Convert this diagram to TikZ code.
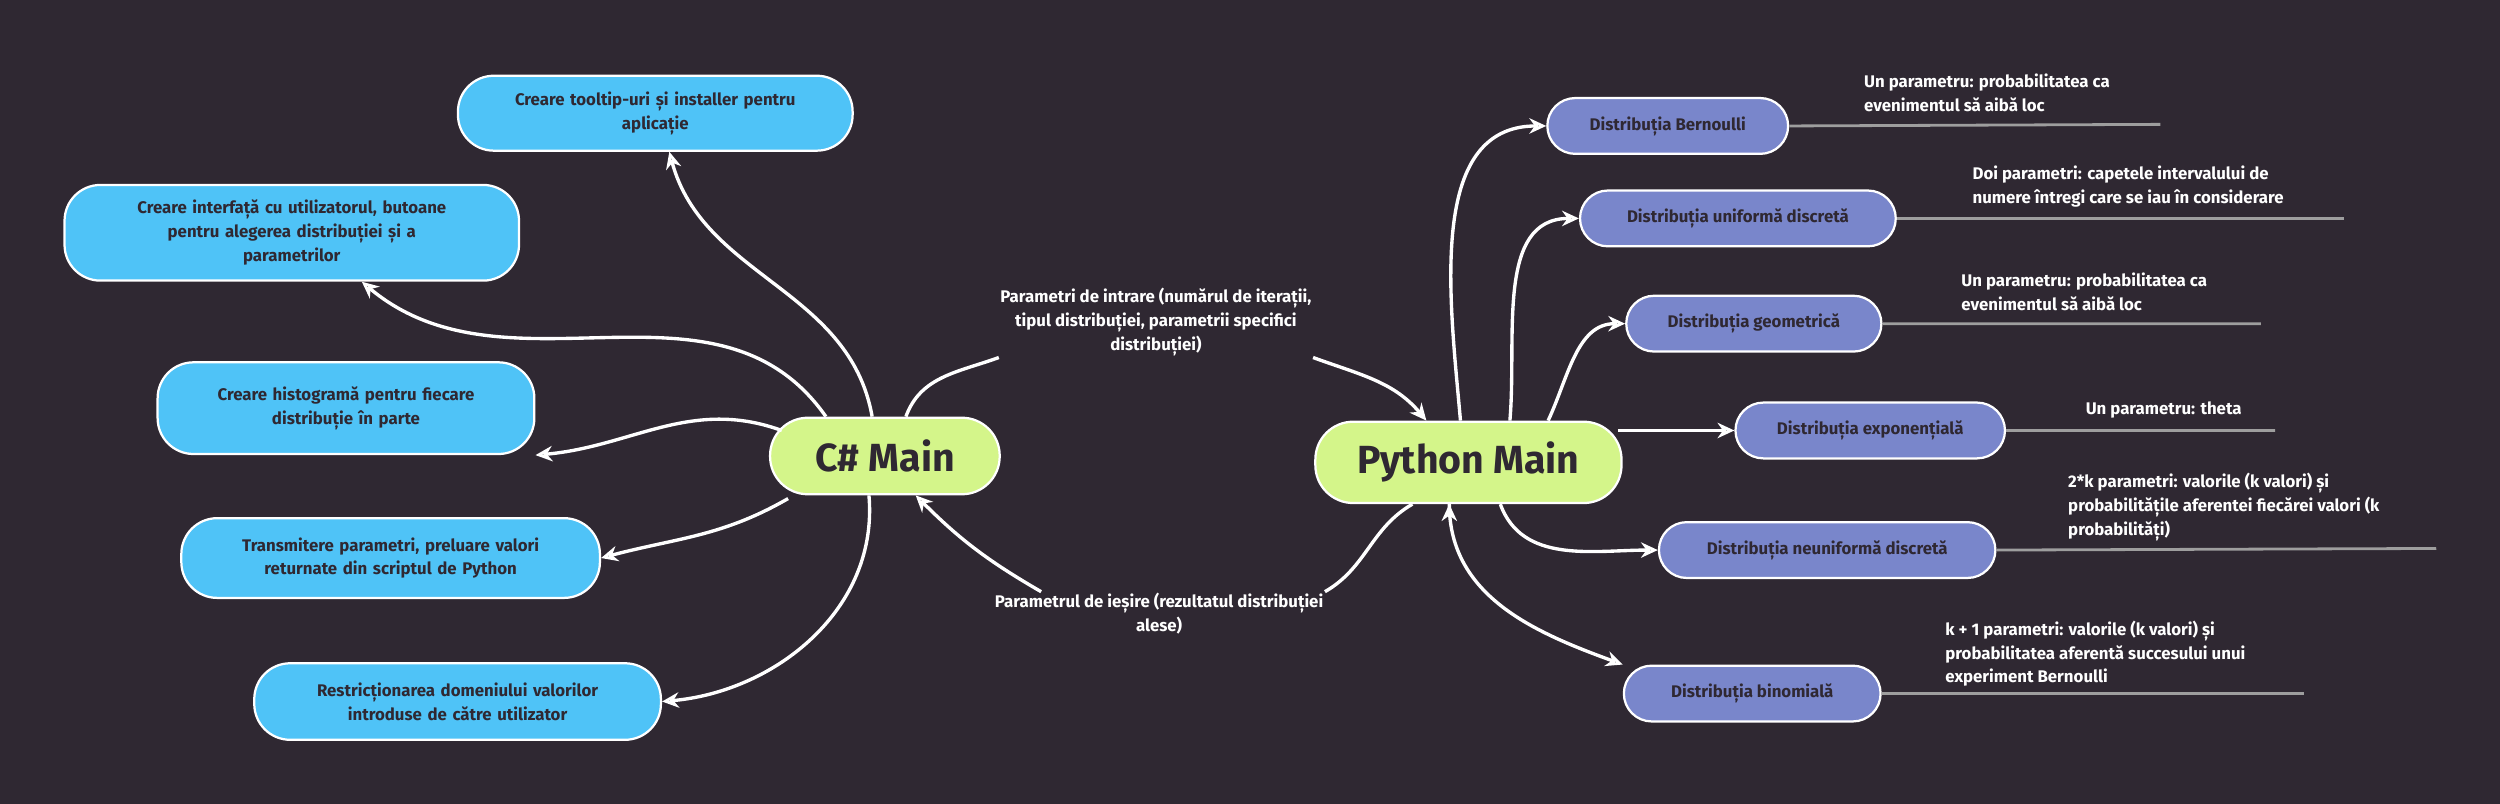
\documentclass[tikz,border=0pt]{standalone}
\usepackage{fontspec}
\setmainfont{Fira Sans}
\usetikzlibrary{arrows.meta, positioning}
\definecolor{bgdark}{HTML}{2F2832}
\definecolor{boxblue}{HTML}{4FC3F7}
\definecolor{boxgreen}{HTML}{D4F58A}
\definecolor{boxpurple}{HTML}{7986CB}
\definecolor{linegray}{HTML}{9E9E9E}
\begin{document}
\begin{tikzpicture}[x=0.04cm, y=0.04cm,
      task/.style = {draw=white, line width=1.6pt, fill=boxblue, rounded corners=0.9cm, align=center,
                     font=\fontsize{12}{17}\selectfont\bfseries, text=bgdark, inner sep=2pt},
      main/.style = {draw=white, line width=1.6pt, fill=boxgreen, rounded corners=0.95cm, align=center,
                     font=\fontsize{28}{30}\selectfont\bfseries, text=bgdark},
      dist/.style = {draw=white, line width=1.6pt, fill=boxpurple, rounded corners=0.7cm, align=center,
                     font=\fontsize{12}{15}\selectfont\bfseries, text=bgdark, minimum height=1.4cm},
      note/.style = {align=left, anchor=west, text=white, font=\fontsize{12}{17}\selectfont\bfseries, inner sep=0pt},
      lbl/.style  = {align=center, text=white, font=\fontsize{12}{17}\selectfont\bfseries, inner sep=1pt},
      link/.style = {draw=white, line width=2.4pt, -{Stealth[length=12pt, width=11pt]}}]
      \fill[bgdark] (0,0) rectangle (1568,-504);
      \useasboundingbox (0,0) rectangle (1568,-504);

      % central nodes
      \node[main, minimum width=5.76cm, minimum height=1.92cm] (cs) at (555,-286) {C\# Main};
      \node[main, minimum width=7.68cm, minimum height=2.04cm] (py) at (921,-290) {Python Main};

      % C# tasks
      \node[task, minimum width=9.9cm,  minimum height=1.88cm, text width=8.6cm] (tip)  at (411,-71)  {Creare tooltip-uri și installer pentru\\ aplicație};
      \node[task, minimum width=11.4cm, minimum height=2.4cm,  text width=10cm]  (gui)  at (183,-146) {Creare interfață cu utilizatorul, butoane\\ pentru alegerea distribuției și a\\ parametrilor};
      \node[task, minimum width=9.45cm, minimum height=2.3cm,  text width=8.4cm] (hist) at (217,-256) {Creare histogramă pentru fiecare\\ distribuție în parte};
      \node[task, minimum width=10.5cm, minimum height=2cm,    text width=9.4cm] (trans) at (245,-350) {Transmitere parametri, preluare valori\\ returnate din scriptul de Python};
      \node[task, minimum width=10.2cm, minimum height=1.92cm, text width=9.4cm] (restr) at (287,-440) {Restricționarea domeniului valorilor\\ introduse de către utilizator};

      % distributions
      \node[dist, minimum width=6.04cm] (bern) at (1046,-79)  {Distribuția Bernoulli};
      \node[dist, minimum width=7.92cm] (unif) at (1090,-137) {Distribuția uniformă discretă};
      \node[dist, minimum width=6.4cm]  (geom) at (1100,-203) {Distribuția geometrică};
      \node[dist, minimum width=6.76cm] (expo) at (1173,-270) {Distribuția exponențială};
      \node[dist, minimum width=8.44cm] (neun) at (1146,-345) {Distribuția neuniformă discretă};
      \node[dist, minimum width=6.44cm] (bino) at (1099,-435) {Distribuția binomială};

      % notes on the right
      \coordinate (bernE) at (1355,-78);
      \coordinate (unifE) at (1470,-137);
      \coordinate (geomE) at (1418,-203);
      \coordinate (expoE) at (1427,-270);
      \coordinate (neunE) at (1528,-344);
      \coordinate (binoE) at (1445,-435);
      \node[note] at (1169,-58)  {Un parametru: probabilitatea ca\\ evenimentul să aibă loc};
      \node[note] at (1237,-117) {Doi parametri: capetele intervalului de\\ numere întregi care se iau în  considerare};
      \node[note] at (1230,-183) {Un parametru:  probabilitatea ca\\ evenimentul să aibă loc};
      \node[note] at (1308,-257) {Un parametru: theta};
      \node[note] at (1297,-318) {2*k parametri: valorile (k valori) și\\ probabilitățile aferentei fiecărei valori (k\\ probabilități)};
      \node[note] at (1220,-410) {k + 1 parametri:  valorile (k valori) și\\ probabilitatea aferentă succesului unui\\ experiment Bernoulli};
      \path[draw=linegray, line width=2pt]
      (bern.east) -- (bernE)
      (unif.east) -- (unifE)
      (geom.east) -- (geomE)
      (expo.east) -- (expoE)
      (neun.east) -- (neunE)
      (bino.east) -- (binoE);

      % edge labels
      \node[lbl] (inp) at (725,-202) {Parametri de intrare (numărul de iterații,\\ tipul distribuției, parametrii specifici\\ distribuției)};
      \node[lbl] (out) at (727,-385) {Parametrul de ieșire (rezultatul distribuției\\ alese)};

      % C# links
      \path[link]
      (cs.north)     ++(-8,0)  edge[out=100, in=-75]  ([xshift=10]tip.south)
      (cs.north)     ++(-37,0) edge[out=125, in=-40]  ([xshift=50]gui.south)
      (cs.west)      ++(8,16)  edge[out=160, in=5]    (hist.south east)
      (cs.south west)++(12,-2) edge[out=-150, in=15]  (trans.east)
      (cs.south)     ++(-10,0) edge[out=-85, in=5]    (restr.east)
      (out.north west)++(30,0) edge[out=150, in=-45]  ([xshift=22]cs.south)
      (py.north)     ++(-5,0)  edge[out=95, in=180]   (bern.west)
      (py.north)     ++(26,0)  edge[out=85, in=180]   (unif.west)
      (py.north)     ++(50,0)  edge[out=65, in=180]   (geom.west)
      (py.east)      ++(-3,20) edge[out=0, in=180]    (expo.west)
      (py.south)     ++(20,0)  edge[out=-70, in=180]  (neun.west)
      (py.south)     ++(-12,0) edge[out=-90, in=160]  (bino.north west);

      \draw[white, line width=2.4pt] ([xshift=15]cs.north) to[out=70, in=-160] (inp.south west);
      \draw[link] (inp.south east) to[out=-20, in=130] ([xshift=-30]py.north);
      \draw[white, line width=2.4pt] ([xshift=-40]py.south) to[out=-150, in=30] (out.north east);
\end{tikzpicture}
\end{document}
